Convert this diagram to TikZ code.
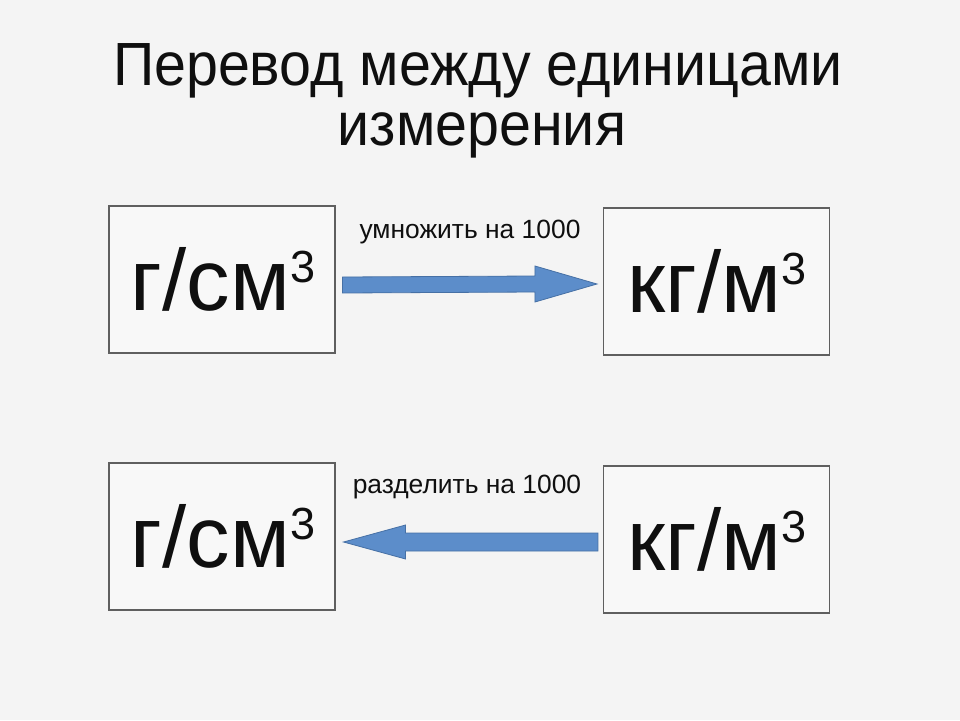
\documentclass[tikz,border=0pt]{standalone}
\usepackage{fontspec}
\setmainfont{Liberation Sans}
\usetikzlibrary{calc}
\definecolor{bgc}{RGB}{244,244,244}
\definecolor{boxfill}{RGB}{248,248,248}
\definecolor{boxline}{RGB}{95,95,95}
\definecolor{arrfill}{RGB}{92,141,202}
\definecolor{arrline}{RGB}{70,112,165}
\definecolor{ink}{RGB}{15,15,15}
\tikzset{
  unitbox/.style={draw=boxline, line width=1.1pt, fill=boxfill, minimum width=226pt, minimum height=147pt, inner sep=0pt},
  unittext/.style={anchor=base, inner sep=0pt, text=ink, font=\fontsize{87}{87}\selectfont},
  lbl/.style={anchor=base, inner sep=0pt, text=ink, font=\fontsize{26.4}{26.4}\selectfont},
  ttl/.style={anchor=base, inner sep=0pt, text=ink, font=\fontsize{61}{61}\selectfont},
  arr/.style={fill=arrfill, draw=arrline, line width=0.8pt, line join=miter}
}
\newcommand{\cube}{\raisebox{28pt}{\fontsize{45}{45}\selectfont 3}}
\begin{document}
\begin{tikzpicture}[x=1pt,y=-1pt]
\fill[bgc] (0,0) rectangle (960,720);
\useasboundingbox (0,0) rectangle (960,720);
% title
\node[ttl] (title1) at (478,85) {\scalebox{0.94}[1]{Перевод между единицами}};
\node[ttl] (title2) at (482,145) {\scalebox{0.94}[1]{измерения}};
% boxes
\node[unitbox] (g1) at (222,279.5) {};
\node[unitbox] (k1) at (716.5,281.5) {};
\node[unitbox] (g2) at (222,536.5) {};
\node[unitbox] (k2) at (716.5,539.5) {};
\node[unittext] (g1t) at (223,310) {г/см\cube};
\node[unittext] (k1t) at (717,312) {кг/м\cube};
\node[unittext] (g2t) at (223,567) {г/см\cube};
\node[unittext] (k2t) at (717,570) {кг/м\cube};
% labels
\node[lbl] (l1) at (470,238) {умножить на 1000};
\node[lbl] (l2) at (467,493) {разделить на 1000};
% arrow 1 (right)
\coordinate (s1) at ($(g1.east)+(7,5.5)$);
\coordinate (t1) at ($(k1.west)+(-6,2.5)$);
\draw[arr] ($(s1)+(0,-8)$) -- ($(t1)+(-62,-8)$) -- ($(t1)+(-62,-18)$) -- (t1)
  -- ($(t1)+(-62,18)$) -- ($(t1)+(-62,8)$) -- ($(s1)+(0,8)$) -- cycle;
% arrow 2 (left)
\coordinate (s2) at ($(k2.west)+(-5,2.5)$);
\coordinate (t2) at ($(g2.east)+(8,5.5)$);
\draw[arr] ($(s2)+(0,-9)$) -- ($(t2)+(62,-9)$) -- ($(t2)+(62,-17)$) -- (t2)
  -- ($(t2)+(62,17)$) -- ($(t2)+(62,9)$) -- ($(s2)+(0,9)$) -- cycle;
\end{tikzpicture}
\end{document}
